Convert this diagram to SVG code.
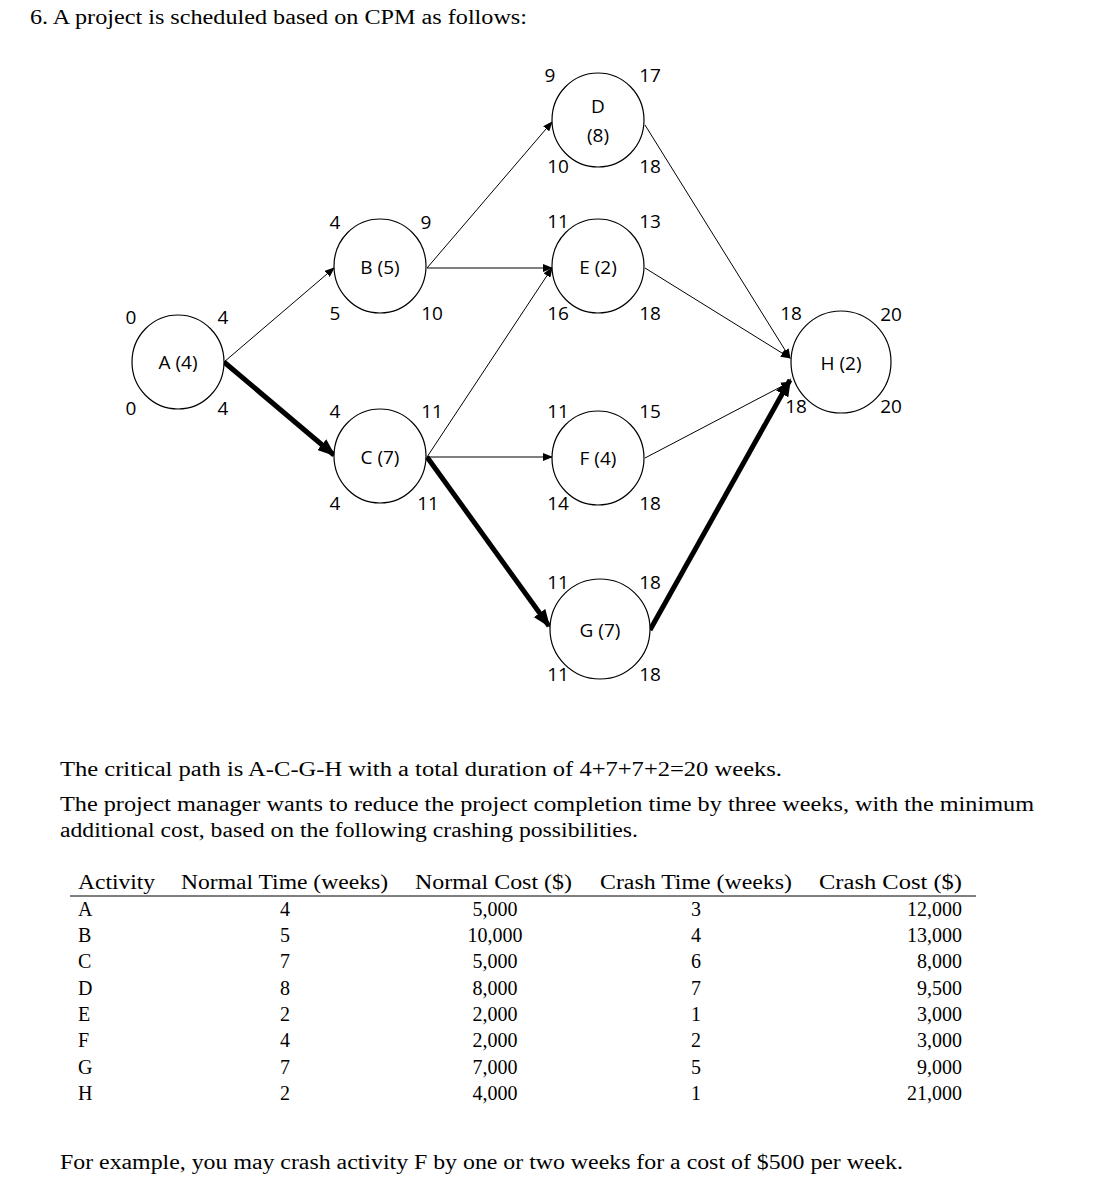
<svg xmlns="http://www.w3.org/2000/svg" width="1098" height="1184" viewBox="0 0 1098 1184">
<style>
.n{fill:#fff;stroke:#000;stroke-width:1.2}
.l{font-family:"Open Sans","DejaVu Sans",sans-serif;font-size:19px;fill:#000;text-anchor:middle}
.t{font-family:"Liberation Serif",serif;font-size:20px;fill:#000}
.thin{stroke:#000;stroke-width:1;fill:none;marker-end:url(#a)}
.thick{stroke:#000;stroke-width:5;fill:none;marker-end:url(#b)}
</style>
<defs>
<marker id="a" markerWidth="10" markerHeight="8" refX="9" refY="4" orient="auto" markerUnits="userSpaceOnUse"><path d="M0,0 L10,4 L0,8 z"/></marker>
<marker id="b" markerWidth="18" markerHeight="14" refX="16" refY="7" orient="auto" markerUnits="userSpaceOnUse"><path d="M0,0 L18,7 L0,14 z"/></marker>
</defs>
<rect width="1098" height="1184" fill="#fff"/>
<text class="t" x="30" y="24" textLength="497" lengthAdjust="spacingAndGlyphs">6.  A project is scheduled based on CPM as follows:</text>
<g id="connectors">
<line class="thin" x1="224" y1="362" x2="334" y2="268"/>
<line class="thick" x1="224" y1="362" x2="334" y2="455"/>
<line class="thin" x1="427" y1="268" x2="552" y2="122"/>
<line class="thin" x1="427" y1="268" x2="552" y2="268"/>
<line class="thin" x1="427" y1="457" x2="552" y2="268"/>
<line class="thin" x1="427" y1="457" x2="552" y2="457"/>
<line class="thick" x1="427" y1="457" x2="549" y2="626"/>
<line class="thin" x1="645" y1="125" x2="790" y2="358"/>
<line class="thin" x1="645" y1="268" x2="790" y2="358"/>
<line class="thin" x1="645" y1="458" x2="790" y2="382"/>
<line class="thick" x1="650" y1="630" x2="790" y2="380"/>
</g>
<g id="A"><ellipse class="n" cx="178" cy="362" rx="46" ry="47"/><text class="l" x="178" y="369">A (4)</text>
<text class="l" x="131" y="324">0</text><text class="l" x="223" y="324">4</text><text class="l" x="131" y="415">0</text><text class="l" x="223" y="415">4</text></g>
<g id="B"><ellipse class="n" cx="380" cy="266" rx="46" ry="47"/><text class="l" x="380" y="274">B (5)</text>
<text class="l" x="335" y="229">4</text><text class="l" x="426" y="229">9</text><text class="l" x="335" y="320">5</text><text class="l" x="432" y="320">10</text></g>
<g id="C"><ellipse class="n" cx="380" cy="456" rx="46" ry="47"/><text class="l" x="380" y="464">C (7)</text>
<text class="l" x="335" y="418">4</text><text class="l" x="432" y="418">11</text><text class="l" x="335" y="510">4</text><text class="l" x="428" y="510">11</text></g>
<g id="D"><ellipse class="n" cx="598" cy="120" rx="46" ry="47"/><text class="l" x="598" y="113">D</text><text class="l" x="598" y="142">(8)</text>
<text class="l" x="550" y="82">9</text><text class="l" x="650" y="82">17</text><text class="l" x="558" y="173">10</text><text class="l" x="650" y="173">18</text></g>
<g id="E"><ellipse class="n" cx="598" cy="266" rx="46" ry="47"/><text class="l" x="598" y="274">E (2)</text>
<text class="l" x="558" y="228">11</text><text class="l" x="650" y="228">13</text><text class="l" x="558" y="320">16</text><text class="l" x="650" y="320">18</text></g>
<g id="F"><ellipse class="n" cx="598" cy="458" rx="46" ry="47"/><text class="l" x="598" y="465">F (4)</text>
<text class="l" x="558" y="418">11</text><text class="l" x="650" y="418">15</text><text class="l" x="558" y="510">14</text><text class="l" x="650" y="510">18</text></g>
<g id="G"><ellipse class="n" cx="600" cy="629" rx="50" ry="50"/><text class="l" x="600" y="637">G (7)</text>
<text class="l" x="558" y="589">11</text><text class="l" x="650" y="589">18</text><text class="l" x="558" y="681">11</text><text class="l" x="650" y="681">18</text></g>
<g id="H"><ellipse class="n" cx="841" cy="362" rx="50" ry="51"/><text class="l" x="841" y="370">H (2)</text>
<text class="l" x="791" y="320">18</text><text class="l" x="891" y="321">20</text><text class="l" x="796" y="413">18</text><text class="l" x="891" y="413">20</text></g>
<text class="t" x="60" y="776" textLength="722" lengthAdjust="spacingAndGlyphs">The critical path is A-C-G-H with a total duration of 4+7+7+2=20 weeks.</text>
<text class="t" x="60" y="811" textLength="974" lengthAdjust="spacingAndGlyphs">The project manager wants to reduce the project completion time by three weeks, with the minimum</text>
<text class="t" x="60" y="837" textLength="578" lengthAdjust="spacingAndGlyphs">additional cost, based on the following crashing possibilities.</text>
<g class="t">
<text x="78" y="889" textLength="77" lengthAdjust="spacingAndGlyphs">Activity</text><text x="181" y="889" textLength="207" lengthAdjust="spacingAndGlyphs">Normal Time (weeks)</text><text x="415" y="889" textLength="157" lengthAdjust="spacingAndGlyphs">Normal Cost ($)</text><text x="600" y="889" textLength="192" lengthAdjust="spacingAndGlyphs">Crash Time (weeks)</text><text x="819" y="889" textLength="143" lengthAdjust="spacingAndGlyphs">Crash Cost ($)</text>
</g>
<line x1="70" y1="896" x2="976" y2="896" stroke="#000" stroke-width="1"/>
<g class="t">
<text x="78" y="916">A</text><text x="78" y="942">B</text><text x="78" y="968">C</text><text x="78" y="995">D</text><text x="78" y="1021">E</text><text x="78" y="1047">F</text><text x="78" y="1074">G</text><text x="78" y="1100">H</text>
</g>
<g class="t" text-anchor="middle">
<text x="285" y="916">4</text><text x="285" y="942">5</text><text x="285" y="968">7</text><text x="285" y="995">8</text><text x="285" y="1021">2</text><text x="285" y="1047">4</text><text x="285" y="1074">7</text><text x="285" y="1100">2</text>
<text x="495" y="916">5,000</text><text x="495" y="942">10,000</text><text x="495" y="968">5,000</text><text x="495" y="995">8,000</text><text x="495" y="1021">2,000</text><text x="495" y="1047">2,000</text><text x="495" y="1074">7,000</text><text x="495" y="1100">4,000</text>
<text x="696" y="916">3</text><text x="696" y="942">4</text><text x="696" y="968">6</text><text x="696" y="995">7</text><text x="696" y="1021">1</text><text x="696" y="1047">2</text><text x="696" y="1074">5</text><text x="696" y="1100">1</text>
</g>
<g class="t" text-anchor="end">
<text x="962" y="916">12,000</text><text x="962" y="942">13,000</text><text x="962" y="968">8,000</text><text x="962" y="995">9,500</text><text x="962" y="1021">3,000</text><text x="962" y="1047">3,000</text><text x="962" y="1074">9,000</text><text x="962" y="1100">21,000</text>
</g>
<text class="t" x="60" y="1169" textLength="843" lengthAdjust="spacingAndGlyphs">For example, you may crash activity F by one or two weeks for a cost of $500 per week.</text>
</svg>
